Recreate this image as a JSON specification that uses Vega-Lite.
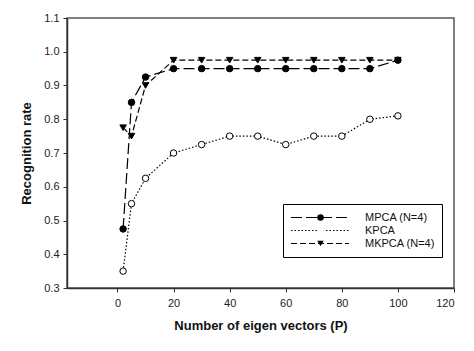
{
  "$schema": "https://vega.github.io/schema/vega-lite/v6.json",
  "width": 387,
  "height": 270,
  "autosize": {"type": "none"},
  "padding": {"left": 67, "top": 18, "right": 20, "bottom": 63},
  "background": "white",
  "config": {
    "view": {"stroke": "#555", "strokeWidth": 1.5},
    "font": "Liberation Sans",
    "axis": {
      "domainColor": "#333",
      "domainWidth": 1.5,
      "tickColor": "#333",
      "tickSize": 4,
      "labelFont": "Liberation Sans",
      "labelFontSize": 11,
      "labelColor": "#222",
      "titleFont": "Liberation Sans",
      "titleFontSize": 13,
      "titleFontWeight": "bold",
      "titleColor": "#111",
      "grid": false
    }
  },
  "data": {
    "values": [
      {"series": "KPCA", "p": 2, "rate": 0.35},
      {"series": "KPCA", "p": 5, "rate": 0.55},
      {"series": "KPCA", "p": 10, "rate": 0.625},
      {"series": "KPCA", "p": 20, "rate": 0.70},
      {"series": "KPCA", "p": 30, "rate": 0.725},
      {"series": "KPCA", "p": 40, "rate": 0.75},
      {"series": "KPCA", "p": 50, "rate": 0.75},
      {"series": "KPCA", "p": 60, "rate": 0.725},
      {"series": "KPCA", "p": 70, "rate": 0.75},
      {"series": "KPCA", "p": 80, "rate": 0.75},
      {"series": "KPCA", "p": 90, "rate": 0.80},
      {"series": "KPCA", "p": 100, "rate": 0.81},
      {"series": "MKPCA (N=4)", "p": 2, "rate": 0.775},
      {"series": "MKPCA (N=4)", "p": 5, "rate": 0.75},
      {"series": "MKPCA (N=4)", "p": 10, "rate": 0.90},
      {"series": "MKPCA (N=4)", "p": 20, "rate": 0.975},
      {"series": "MKPCA (N=4)", "p": 30, "rate": 0.975},
      {"series": "MKPCA (N=4)", "p": 40, "rate": 0.975},
      {"series": "MKPCA (N=4)", "p": 50, "rate": 0.975},
      {"series": "MKPCA (N=4)", "p": 60, "rate": 0.975},
      {"series": "MKPCA (N=4)", "p": 70, "rate": 0.975},
      {"series": "MKPCA (N=4)", "p": 80, "rate": 0.975},
      {"series": "MKPCA (N=4)", "p": 90, "rate": 0.975},
      {"series": "MKPCA (N=4)", "p": 100, "rate": 0.975},
      {"series": "MPCA (N=4)", "p": 2, "rate": 0.475},
      {"series": "MPCA (N=4)", "p": 5, "rate": 0.85},
      {"series": "MPCA (N=4)", "p": 10, "rate": 0.925},
      {"series": "MPCA (N=4)", "p": 20, "rate": 0.95},
      {"series": "MPCA (N=4)", "p": 30, "rate": 0.95},
      {"series": "MPCA (N=4)", "p": 40, "rate": 0.95},
      {"series": "MPCA (N=4)", "p": 50, "rate": 0.95},
      {"series": "MPCA (N=4)", "p": 60, "rate": 0.95},
      {"series": "MPCA (N=4)", "p": 70, "rate": 0.95},
      {"series": "MPCA (N=4)", "p": 80, "rate": 0.95},
      {"series": "MPCA (N=4)", "p": 90, "rate": 0.95},
      {"series": "MPCA (N=4)", "p": 100, "rate": 0.975}
    ]
  },
  "encoding": {
    "x": {
      "field": "p",
      "type": "quantitative",
      "title": "Number of eigen vectors (P)",
      "scale": {"domain": [-18, 120], "nice": false, "zero": false},
      "axis": {"values": [0, 20, 40, 60, 80, 100, 120], "labelPadding": 5, "titlePadding": 11}
    },
    "y": {
      "field": "rate",
      "type": "quantitative",
      "title": "Recognition rate",
      "scale": {"domain": [0.3, 1.1], "nice": false, "zero": false},
      "axis": {"values": [0.3, 0.4, 0.5, 0.6, 0.7, 0.8, 0.9, 1.0, 1.1], "format": ".1f", "labelPadding": 4, "titlePadding": 10}
    }
  },
  "layer": [
    {
      "mark": {"type": "line", "stroke": "black", "strokeWidth": 1.2},
      "encoding": {
        "strokeDash": {
          "field": "series",
          "type": "nominal",
          "sort": ["MPCA (N=4)", "KPCA", "MKPCA (N=4)"],
          "scale": {"range": [[11, 4], [1.5, 2], [6, 3]]},
          "legend": {
            "orient": "none",
            "legendX": 216,
            "legendY": 186,
            "title": null,
            "padding": 7,
            "strokeColor": "black",
            "fillColor": "white",
            "symbolType": "stroke",
            "symbolSize": 3364,
            "symbolStrokeColor": "black",
            "symbolStrokeWidth": 1.2,
            "clipHeight": 13,
            "rowPadding": 0,
            "labelOffset": 15,
            "labelFontSize": 11,
            "labelColor": "#111",
            "labelFont": "Liberation Sans"
          }
        }
      }
    },
    {
      "mark": {"type": "point", "filled": true, "stroke": "black", "strokeWidth": 1, "size": 42, "opacity": 1},
      "encoding": {
        "shape": {
          "field": "series",
          "type": "nominal",
          "scale": {"domain": ["MPCA (N=4)", "KPCA", "MKPCA (N=4)"], "range": ["circle", "circle", "triangle-down"]},
          "legend": {
            "orient": "none",
            "legendX": 241,
            "legendY": 186,
            "title": null,
            "padding": 7,
            "symbolSize": 42,
            "symbolStrokeColor": "black",
            "symbolStrokeWidth": 1,
            "clipHeight": 13,
            "rowPadding": 0,
            "labelExpr": "''",
            "labelFontSize": 11
          }
        },
        "fill": {
          "field": "series",
          "type": "nominal",
          "scale": {"domain": ["MPCA (N=4)", "KPCA", "MKPCA (N=4)"], "range": ["black", "white", "black"]},
          "legend": {
            "orient": "none",
            "legendX": 241,
            "legendY": 186,
            "title": null,
            "padding": 7,
            "symbolSize": 42,
            "symbolStrokeColor": "black",
            "symbolStrokeWidth": 1,
            "clipHeight": 13,
            "rowPadding": 0,
            "labelExpr": "''",
            "labelFontSize": 11
          }
        }
      }
    }
  ]
}
